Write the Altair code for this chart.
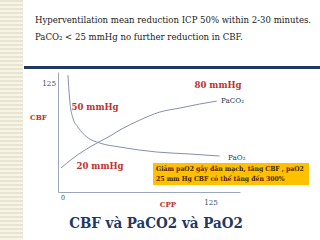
import altair as alt
import pandas as pd

# Response curves: x is pressure on the CPP axis, y is CBF
pao2_x = [8.2, 9.0, 9.9, 12.3, 16.4, 23.8, 34.5, 51.0, 81.4, 108.6, 133.2]
pao2_y = [135.4, 118.1, 103.0, 85.6, 75.2, 63.7, 56.7, 52.1, 46.3, 44.0, 41.7]
paco2_x = [2.5, 11.5, 22.2, 32.1, 42.8, 51.0, 67.4, 83.9, 100.3, 116.8, 130.8]
paco2_y = [27.8, 38.2, 48.6, 56.7, 64.8, 71.8, 83.3, 92.6, 97.2, 101.9, 105.3]

# Axis end labels
axis_ticks = ["0", "125"]

header_lines = [
    "Hyperventilation mean reduction ICP 50% within 2-30 minutes.",
    "PaCO\u2082 < 25 mmHg no further reduction in CBF.",
]
note_lines = [
    "Giảm paO2 gây dãn mạch, tăng CBF , paO2",
    "25 mm Hg CBF có thể tăng đến 300%",
]
title_text = "CBF và PaCO2 và PaO2"

# plot area placement on the 320x240 canvas
OX, OY = 58, 72
W, H = 182, 120

SERIF = "DejaVu Serif Condensed"
NAVY = "#1f3864"
RED = "#c0302c"
CURVE = "#8391a8"

curves = pd.DataFrame(
    {
        "x": pao2_x + paco2_x,
        "y": pao2_y + paco2_y,
        "series": ["PaO2"] * len(pao2_x) + ["PaCO2"] * len(paco2_x),
    }
)

xs = alt.Scale(domain=[0, 150], nice=False, zero=False)
ys = alt.Scale(domain=[0, 139], nice=False, zero=False)
ax = alt.Axis(labels=False, ticks=False, grid=False, title=None,
              domainColor="#9aa6ba", domainWidth=1)

lines = alt.Chart(curves).mark_line(
    color=CURVE, strokeWidth=1, interpolate="monotone"
).encode(
    x=alt.X("x:Q", scale=xs, axis=ax),
    y=alt.Y("y:Q", scale=ys, axis=ax),
    detail="series:N",
)


def text(t, x, y, size, color, weight="normal", align="left", font=SERIF):
    return alt.Chart(pd.DataFrame({"t": [t]})).mark_text(
        align=align, baseline="middle", fontSize=size, font=font,
        fontWeight=weight, color=color,
    ).encode(x=alt.value(x - OX), y=alt.value(y - OY), text="t:N")


def box(x0, x1, y0, y1, color):
    return alt.Chart(pd.DataFrame({"a": [0]})).mark_rect(color=color).encode(
        x=alt.value(x0 - OX), x2=alt.value(x1 - OX),
        y=alt.value(y0 - OY), y2=alt.value(y1 - OY),
    )


# striped side panel
stripe_rows = pd.DataFrame({"y0": [v - OY for v in range(0, 240, 4)]})
stripe_rows["y1"] = stripe_rows["y0"] + 2
panel = box(0, 23, 0, 240, "#f6f4e8")
stripes = alt.Chart(stripe_rows).mark_rect(color="#e8e4cd").encode(
    x=alt.value(0 - OX), x2=alt.value(23 - OX),
    y=alt.Y("y0:Q", scale=None), y2="y1:Q",
)

layers = [
    panel,
    stripes,
    box(24, 320, 66, 69, NAVY),
    text(header_lines[0], 35, 20, 9.5, "#1a1a1a"),
    text(header_lines[1], 35, 37, 9.5, "#1a1a1a"),
    lines,
    text("125", 56, 84, 8, "#3d4a63", align="right"),
    text("CBF", 30, 118, 8, RED, weight="bold"),
    text(axis_ticks[0], 61, 198, 7, "#3d4a63"),
    text(axis_ticks[1], 211, 203, 8, "#3d4a63", align="center"),
    text("CPP", 168, 205, 8, RED, weight="bold", align="center"),
    text("80 mmHg", 218, 85, 9.5, RED, weight="bold", align="center"),
    text("50 mmHg", 95, 107, 9.5, RED, weight="bold", align="center"),
    text("20 mmHg", 100, 166, 9.5, RED, weight="bold", align="center"),
    text("PaCO\u2082", 221, 101, 8, "#2d3c5e"),
    text("PaO\u2082", 228, 158, 8, "#2d3c5e"),
    box(153, 309, 163, 185, "#ffc000"),
    text(note_lines[0], 156, 169, 6.8, "#4a2608", weight="bold"),
    text(note_lines[1], 156, 179, 6.8, "#4a2608", weight="bold"),
    text(title_text, 156, 223, 15, NAVY, weight="bold", align="center"),
]

chart = alt.layer(*layers).properties(
    width=W, height=H,
    padding={"left": OX, "top": OY, "right": 320 - OX - W, "bottom": 240 - OY - H},
    autosize=alt.AutoSizeParams(type="none"),
    background="white",
).configure_view(strokeWidth=0)

chart.save("out.html", embed_options={"renderer": "svg", "actions": False})
